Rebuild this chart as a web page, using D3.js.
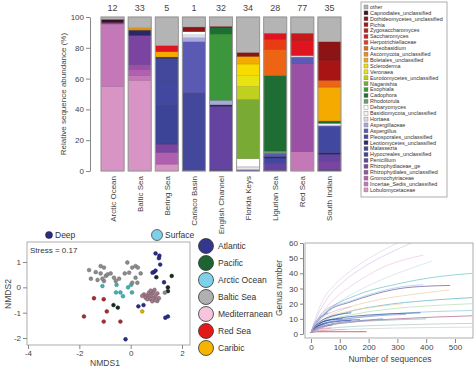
<!DOCTYPE html>
<html><head><meta charset="utf-8">
<script src="https://cdn.jsdelivr.net/npm/d3@7"></script>
<style>body{margin:0;background:#fff} svg{display:block;font-family:"Liberation Sans",Arial,sans-serif}</style>
</head><body><svg id="c" width="474" height="368"></svg>
<script>
// ---------- Bar chart data ----------
const categories = ["Arctic Ocean","Baltic Sea","Bering Sea","Cariaco Basin","English Channel","Florida  Keys","Ligurian Sea","Red Sea","South Indian"];
const sampleCounts = [12,33,5,1,32,34,28,77,35];
const barTicks = [0,20,40,60,80,100];
const taxa = ["other","Capnodiales_unclassified","Dothideomycetes_unclassified","Pichia","Zygosaccharomyces","Saccharomyces","Herpotrichiellaceae","Aureobasidium","Ascomycota_unclassified","Boletales_unclassified","Scleroderma","Veronaea","Eurotiomycetes_unclassified","Naganishia","Exophiala","Cadophora","Rhodotorula","Debaryomyces","Basidiomycota_unclassified","Hortaea","Aspergillaceae","Aspergillus","Pleosporales_unclassified","Leotiomycetes_unclassified","Malassezia","Hypocreales_unclassified","Penicillium","Rhizophydiaceae_ge","Rhizophydiales_unclassified","Gromochytriaceae","Incertae_Sedis_unclassified","Lobulomycetaceae"];
const taxaColors = ["#b4b4b4","#3c1020","#8c1414","#a81414","#c41a1a","#e0141e","#e83c14","#ec6414","#f08c10","#f5aa00","#f8dc00","#e8e414","#c0d01e","#78aa34","#3c963c","#1e6e34","#6e9a6e","#ffffff","#f4f4f4","#dcdcec","#a8a8dc","#5a5ab4","#44489c","#282864","#4048a0","#3c4498","#6444a0","#7a44a0","#9a50a4","#b060b0","#c478b8","#d894c4"];

const arcticOcean = [["Lobulomycetaceae",55],["Incertae_Sedis_unclassified",40.5],["Rhizophydiaceae_ge",1],["Capnodiales_unclassified",2],["other",1.5]];
const balticSea = [["Lobulomycetaceae",59],["Incertae_Sedis_unclassified",3],["Gromochytriaceae",4],["Rhizophydiales_unclassified",3],["Rhizophydiaceae_ge",19],["Leotiomycetes_unclassified",3.5],["Ascomycota_unclassified",1],["Boletales_unclassified",0.5],["other",7]];
const beringSea = [["Lobulomycetaceae",4.5],["Gromochytriaceae",7.5],["Rhizophydiaceae_ge",5.5],["Hypocreales_unclassified",25.5],["Malassezia",16],["Pleosporales_unclassified",14],["Leotiomycetes_unclassified",1],["Boletales_unclassified",3.5],["Saccharomyces",4],["other",18.5]];
const cariacoBasin = [["Pleosporales_unclassified",51],["Aspergillus",33],["Aspergillaceae",2.5],["Hortaea",2],["Debaryomyces",2],["Dothideomycetes_unclassified",3],["other",6.5]];
const englishChannel = [["Leotiomycetes_unclassified",1],["Penicillium",41],["Leotiomycetes_unclassified",1],["Aspergillaceae",3],["Exophiala",43],["Cadophora",4],["Dothideomycetes_unclassified",1],["other",6]];
const floridaKeys = [["Penicillium",1],["Basidiomycota_unclassified",1],["Hortaea",1],["Debaryomyces",5],["Naganishia",38.5],["Eurotiomycetes_unclassified",8.5],["Veronaea",7],["Scleroderma",7.5],["Boletales_unclassified",5],["Dothideomycetes_unclassified",2.5],["other",23]];
const ligurianSea = [["Leotiomycetes_unclassified",0.5],["Penicillium",4.5],["Malassezia",3.5],["Leotiomycetes_unclassified",1],["Aspergillus",2],["Rhodotorula",1.5],["Cadophora",49],["Aureobasidium",17],["Herpotrichiellaceae",6.5],["Saccharomyces",4],["other",10.5]];
const redSea = [["Incertae_Sedis_unclassified",12.5],["Rhizophydiales_unclassified",57.5],["Aspergillus",4],["Hortaea",1],["Saccharomyces",10],["Zygosaccharomyces",4.5],["other",10.5]];
const southIndian = [["Leotiomycetes_unclassified",1],["Rhizophydiaceae_ge",5],["Penicillium",5],["Leotiomycetes_unclassified",1],["Malassezia",16.5],["Aspergillus",1],["Basidiomycota_unclassified",1.5],["Cadophora",1.5],["Boletales_unclassified",22],["Aureobasidium",4.5],["Pichia",13],["Dothideomycetes_unclassified",12],["other",16]];
const siteSegments = [arcticOcean,balticSea,beringSea,cariacoBasin,englishChannel,floridaKeys,ligurianSea,redSea,southIndian];

// ---------- NMDS data ----------
const nmdsGroups = ["Atlantic","Pacific","Arctic Ocean","Baltic Sea","Mediterranean","Red Sea","Caribic"];
const nmdsLegendColors = ["#34388c","#1e6432","#80d0ea","#b0b0b0","#f6c4dc","#e41a1a","#f4b400"];
const nmdsPointColors = ["#2a2c84","#1a2a1e","#40b0b4","#8c8c8c","#a07888","#a03030","#d8b000"];
const atlanticPts = [[0.97,1.34],[1.12,1.25],[1.1,1.15],[1.15,0.9],[0.9,0.6],[0.85,0.58],[0.97,0.66],[1.3,0.2],[0.3,-0.75],[0.5,-0.7],[1.35,-1.2],[1.45,-1.15],[-0.2,-2.05]];
const pacificPts = [[1.0,0.4],[1.6,0.45],[1.45,0.0],[1.45,-0.15],[-0.67,-0.7],[-0.5,-0.8]];
const arcticPts = [[-1.1,0.05],[-0.55,0.1],[-0.57,-0.2],[-0.4,-0.2],[-0.3,-0.35],[0.05,-0.2],[-0.1,0.0],[0.02,0.1]];
const balticPts = [[-1.62,0.68],[-1.36,0.6],[-1.17,0.84],[-1.04,0.78],[-1.17,0.55],[-0.97,0.45],[-1.29,0.29],[-1.04,0.25],[-0.9,0.51],[-0.78,0.55],[-0.65,0.38],[-0.58,0.25],[-0.45,0.34],[-0.13,0.98],[0.06,0.78],[-0.23,0.55],[-0.06,0.58],[0.19,0.84],[0.28,0.78],[0.39,0.55],[0.19,0.38],[0.26,0.18],[0.06,0.18],[-1.55,0.34],[-1.1,0.34],[1.33,-0.21],[1.04,-0.54]];
const medPts = [[0.52,-0.28],[0.65,-0.32],[0.71,-0.21],[0.78,-0.34],[0.84,-0.24],[0.91,-0.41],[0.75,-0.45],[0.97,-0.51],[0.88,-0.18],[1.04,-0.24],[0.58,-0.41],[0.84,-0.55],[0.65,-0.47],[0.97,-0.34],[1.1,-0.43],[0.78,-0.13],[0.93,-0.1],[0.45,-0.34]];
const redPts = [[-1.43,-0.43],[-1.05,-0.47],[-0.93,-0.95],[-1.82,-1.15],[-1.05,-1.35],[-0.4,-1.35]];
const caribicPts = [[0.45,-0.95]];
const nmdsPoints = [atlanticPts,pacificPts,arcticPts,balticPts,medPts,redPts,caribicPts];
const nmdsXTicks = [-4,-2,0,2];
const nmdsYTicks = [-2,-1,0,1];

// ---------- Rarefaction data ----------
const rareXTicks = [0,100,200,300,400,500];
const rareYTicks = [0,10,20,30,40,50,60];
const rareCurves = [
 [[0,1],[15,10],[40,22],[80,32],[140,42],[220,52],[300,60]],
 [[0,1],[20,11],[55,23],[110,34],[190,45],[290,55],[360,61]],
 [[0,1],[25,10],[70,21],[150,33],[250,44],[390,52]],
 [[0,1],[30,9],[90,20],[180,30],[300,40],[420,48]],
 [[0,1],[20,8],[60,16],[150,25],[300,33],[450,38],[560,40]],
 [[0,1],[30,10],[66,16],[135,21],[216,26],[309,30],[400,31.5],[483,32]],
 [[0,1],[30,10],[70,17],[140,22],[220,27],[310,31],[390,32.5]],
 [[0,1],[40,9],[110,16],[220,22],[350,26],[480,29]],
 [[0,1],[40,8],[120,14],[250,19],[400,22],[560,24]],
 [[0,1],[50,8],[150,13],[300,17],[450,19],[560,20]],
 [[0,1],[60,8],[160,11],[300,13.5],[560,15.5]],
 [[0,1],[50,5],[150,8],[300,10],[560,12]],
 [[0,1],[40,3],[150,5],[300,6],[560,7]],
 [[0,1],[60,2.5],[200,3.5],[560,4.5]],
 [[0,1],[20,1.5],[193,1.5]],
 [[0,1],[15,5],[40,8],[100,10.5],[200,12.5],[300,13.5],[380,14]],
 [[0,1],[10,4],[30,7],[60,9],[110,10]],
 [[0,1],[10,3.5],[35,6],[80,8],[140,9]],
 [[0,1],[8,3],[25,5.5],[55,7]],
 [[0,1],[15,4],[45,7],[90,8.5],[170,9.5]],
 [[0,1],[12,3],[40,5],[75,6]],
 [[0,1],[10,2.5],[30,3.5],[70,4]],
 [[0,1],[20,2],[60,2.5],[120,3]],
 [[0,1],[8,5],[20,9],[40,12],[60,14]],
 [[0,1],[10,6],[25,10],[45,13]],
 [[0,1],[15,6],[40,11],[80,15],[140,18]],
 [[0,1],[20,6],[60,11],[130,15],[230,18],[320,20]],
 [[0,1],[10,4],[30,8],[60,11],[100,13],[140,14]],
 [[0,1],[25,4],[80,7],[180,9],[250,10]],
 [[0,1],[30,5],[100,9],[200,11.5],[330,13]],
 [[0,1],[15,7],[35,13],[60,17],[90,20]],
 [[0,1],[40,5],[120,7.5],[250,9],[400,10]]
];
const rareColors = ["#e4d4e4","#d8c8ec","#f0c8dc","#d4dcec","#70c4c8","#6a5a9c","#a4c8ec","#f0d0a0","#5cb4c0","#b8dcb0","#88c8d4","#b06090","#b4c4c4","#c8d4d4","#b03040","#3050a8","#2a3aa0","#4050b0","#283090","#5060c0","#8040a0","#e090b0","#f0a0c0","#5070c0","#c0c8f0","#d4b4d4","#ecd4b0","#3858b0","#7080c8","#8898d0","#ccaccc","#90b4b4"];

// ---------- Drawing ----------
const svg = d3.select("#c");
const txt = "#444";
const colorOf = t => taxaColors[taxa.indexOf(t)];

// Bar chart
const xB = d3.scaleBand().domain(categories).range([99,343]).paddingInner(0.15).paddingOuter(0.075);
const yB = d3.scaleLinear().domain([0,100]).range([171,17]);

const yAx = svg.append("g").attr("transform","translate(90,0)")
  .call(d3.axisLeft(yB).tickValues(barTicks).tickSize(4).tickSizeOuter(0).tickPadding(2));
yAx.selectAll("path,line").attr("stroke","#888");
yAx.selectAll("text").attr("font-size",8).attr("fill",txt).attr("font-family","Liberation Sans, Arial");

svg.append("text").attr("transform","translate(66,94) rotate(-90)").attr("text-anchor","middle")
  .attr("font-size",8).attr("fill",txt).text("Relative sequence abundance (%)");

categories.forEach((c,i)=>{
  const segs = siteSegments[i];
  let cum = 0;
  const g = svg.append("g");
  segs.forEach(([t,v])=>{
    const y0 = cum, y1 = cum+v; cum = y1;
    const col = colorOf(t);
    g.append("rect").attr("x",xB(c)).attr("width",xB.bandwidth())
      .attr("y",yB(y1)).attr("height",yB(y0)-yB(y1))
      .attr("fill",col).attr("stroke",d3.color(col).darker(0.7)).attr("stroke-width",0.4);
  });
  g.append("rect").attr("x",xB(c)).attr("width",xB.bandwidth())
    .attr("y",yB(100)).attr("height",yB(0)-yB(100))
    .attr("fill","none").attr("stroke","#9a9a9a").attr("stroke-width",1);
  svg.append("text").attr("x",xB(c)+xB.bandwidth()/2).attr("y",11).attr("text-anchor","middle")
    .attr("font-size",9).attr("fill",txt).text(sampleCounts[i]);
  svg.append("text").attr("transform",`translate(${xB(c)+xB.bandwidth()/2+3},176) rotate(-90)`)
    .attr("text-anchor","end").attr("font-size",8).attr("fill",txt).text(c);
});

// Legend
svg.append("rect").attr("x",361).attr("y",2).attr("width",86).attr("height",195)
  .attr("fill","#fff").attr("stroke","#999").attr("stroke-width",0.8);
taxa.forEach((t,i)=>{
  const y = 7 + i*5.9;
  svg.append("rect").attr("x",364).attr("y",y-2).attr("width",4).attr("height",4)
    .attr("fill",taxaColors[i]).attr("stroke","#777").attr("stroke-width",0.4);
  svg.append("text").attr("x",370).attr("y",y+1.8).attr("font-size",5.4).attr("fill","#333").text(t);
});

// NMDS
const xN = d3.scaleLinear().domain([-4,2]).range([28,182]);
const yN = d3.scaleLinear().domain([-2,1]).range([338,262]);
svg.append("rect").attr("x",27).attr("y",242).attr("width",163).attr("height",103)
  .attr("fill","none").attr("stroke","#999").attr("stroke-width",0.8);
const nx = svg.append("g").attr("transform","translate(0,345)")
  .call(d3.axisBottom(xN).tickValues(nmdsXTicks).tickFormat(d=>String(d)).tickSize(4).tickSizeOuter(0).tickPadding(1));
nx.select("path").remove();
nx.selectAll("line").attr("stroke","#888");
nx.selectAll("text").attr("font-size",8).attr("fill",txt).attr("font-family","Liberation Sans, Arial");
const ny = svg.append("g").attr("transform","translate(27,0)")
  .call(d3.axisLeft(yN).tickValues(nmdsYTicks).tickFormat(d=>String(d)).tickSize(4).tickSizeOuter(0).tickPadding(2));
ny.select("path").remove();
ny.selectAll("line").attr("stroke","#888");
ny.selectAll("text").attr("font-size",8).attr("fill",txt).attr("font-family","Liberation Sans, Arial");
svg.append("text").attr("x",105).attr("y",366).attr("text-anchor","middle").attr("font-size",8.5).attr("fill",txt).text("NMDS1");
svg.append("text").attr("transform","translate(11,294) rotate(-90)").attr("text-anchor","middle").attr("font-size",8.5).attr("fill",txt).text("NMDS2");
svg.append("text").attr("x",30).attr("y",253).attr("font-size",8).attr("fill","#333").text("Stress = 0.17");

nmdsPoints.forEach((pts,gi)=>{
  pts.forEach(([x,y])=>{
    svg.append("circle").attr("cx",xN(x)).attr("cy",yN(y)).attr("r",1.9)
      .attr("fill",nmdsPointColors[gi]).attr("stroke",d3.color(nmdsPointColors[gi]).darker(0.8)).attr("stroke-width",0.5);
  });
});

// Deep/Surface legend
svg.append("circle").attr("cx",49).attr("cy",235).attr("r",3.5).attr("fill","#2a2c84").attr("stroke","#111").attr("stroke-width",0.5);
svg.append("text").attr("x",55).attr("y",238).attr("font-size",8.5).attr("fill","#333").text("Deep");
svg.append("circle").attr("cx",157).attr("cy",235).attr("r",5.5).attr("fill","#80d0ea").attr("stroke","#333").attr("stroke-width",0.7);
svg.append("text").attr("x",165).attr("y",238).attr("font-size",8.5).attr("fill","#333").text("Surface");

nmdsGroups.forEach((g,i)=>{
  const y = 246 + i*17;
  svg.append("circle").attr("cx",206).attr("cy",y).attr("r",7.5).attr("fill",nmdsLegendColors[i]).attr("stroke","#333").attr("stroke-width",0.8);
  svg.append("text").attr("x",218).attr("y",y+3).attr("font-size",8.5).attr("fill","#333").text(g);
});

// Rarefaction
const xR = d3.scaleLinear().domain([0,500]).range([311,455]);
const yR = d3.scaleLinear().domain([0,60]).range([334,243]);
svg.append("defs").append("clipPath").attr("id","rclip").append("rect")
  .attr("x",305).attr("y",243).attr("width",168).attr("height",95);
const line = d3.line().x(d=>xR(d[0])).y(d=>yR(d[1])).curve(d3.curveMonotoneX);
const rg = svg.append("g").attr("clip-path","url(#rclip)");
rareCurves.forEach((c,i)=>{
  rg.append("path").attr("d",line(c)).attr("fill","none").attr("stroke",rareColors[i])
    .attr("stroke-width",0.9).attr("stroke-opacity",0.8);
});
svg.append("rect").attr("x",305).attr("y",243).attr("width",168).attr("height",95)
  .attr("fill","none").attr("stroke","#999").attr("stroke-width",0.8);
const rx = svg.append("g").attr("transform","translate(0,339)")
  .call(d3.axisBottom(xR).tickValues(rareXTicks).tickSize(4).tickSizeOuter(0).tickPadding(1));
rx.select("path").remove();
rx.selectAll("line").attr("stroke","#888");
rx.selectAll("text").attr("font-size",8).attr("fill",txt).attr("font-family","Liberation Sans, Arial");
const ry = svg.append("g").attr("transform","translate(303,0)")
  .call(d3.axisLeft(yR).tickValues(rareYTicks).tickSize(3).tickSizeOuter(0).tickPadding(2));
ry.selectAll("path,line").attr("stroke","#888");
ry.selectAll("text").attr("font-size",8).attr("fill",txt).attr("font-family","Liberation Sans, Arial");
svg.append("text").attr("x",390).attr("y",362).attr("text-anchor","middle").attr("font-size",8.5).attr("fill",txt).text("Number of sequences");
svg.append("text").attr("transform","translate(282,288) rotate(-90)").attr("text-anchor","middle").attr("font-size",8.5).attr("fill",txt).text("Genus number");
</script></body></html>
